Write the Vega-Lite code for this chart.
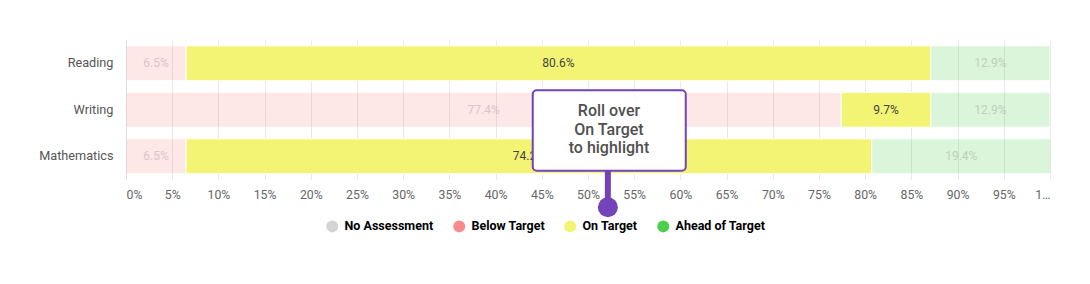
{
  "$schema": "https://vega.github.io/schema/vega-lite/v6.json",
  "width": 924,
  "height": 139.5,
  "autosize": {"type": "none"},
  "padding": {"left": 126, "top": 40, "right": 40, "bottom": 104.5},
  "background": "white",
  "config": {"font": "Roboto", "view": {"stroke": null}},
  "datasets": {
    "scores": [
      {"subject": "Reading", "status": "Below Target", "level": 1, "share": 0.065},
      {"subject": "Reading", "status": "On Target", "level": 2, "share": 0.806},
      {"subject": "Reading", "status": "Ahead of Target", "level": 3, "share": 0.129},
      {"subject": "Writing", "status": "Below Target", "level": 1, "share": 0.774},
      {"subject": "Writing", "status": "On Target", "level": 2, "share": 0.097},
      {"subject": "Writing", "status": "Ahead of Target", "level": 3, "share": 0.129},
      {"subject": "Mathematics", "status": "Below Target", "level": 1, "share": 0.065},
      {"subject": "Mathematics", "status": "On Target", "level": 2, "share": 0.742},
      {"subject": "Mathematics", "status": "Ahead of Target", "level": 3, "share": 0.194}
    ]
  },
  "layer": [
    {
      "data": {"name": "scores"},
      "layer": [
        {
          "mark": {"type": "bar", "stroke": "white", "strokeWidth": 1},
          "encoding": {
            "y": {
              "field": "subject", "type": "nominal",
              "sort": ["Reading", "Writing", "Mathematics"],
              "scale": {"paddingInner": 0.25, "paddingOuter": 0.125},
              "axis": {
                "title": null, "domain": true, "domainColor": "#d8dce8", "domainWidth": 1,
                "ticks": false, "grid": false, "labelPadding": 13, "labelFontSize": 12.7,
                "labelColor": "#555555", "labelFont": "Roboto"
              }
            },
            "x": {
              "field": "share", "type": "quantitative", "stack": "zero",
              "scale": {"domain": [0, 1], "nice": false},
              "axis": {
                "title": null, "format": ".0%",
                "values": [0, 0.05, 0.1, 0.15, 0.2, 0.25, 0.3, 0.35, 0.4, 0.45, 0.5, 0.55, 0.6, 0.65, 0.7, 0.75, 0.8, 0.85, 0.9, 0.95, 1],
                "labelExpr": "datum.value >= 1 ? '1…' : datum.label",
                "domain": false, "ticks": false, "grid": true, "gridColor": "#e9e9e9",
                "labelPadding": 9, "labelFontSize": 12.3, "labelColor": "#666666", "labelFont": "Roboto",
                "encode": {"labels": {"update": {
                  "align": {"signal": "datum.value >= 1 ? 'right' : 'center'"},
                  "dx": {"signal": "datum.value >= 1 ? -3 : 0"}
                }}}
              }
            },
            "order": {"field": "level", "type": "quantitative", "sort": "ascending"},
            "color": {
              "field": "status", "type": "nominal",
              "scale": {
                "domain": ["No Assessment", "Below Target", "On Target", "Ahead of Target"],
                "range": ["#d4d4d7", "#f88b8b", "#f3f374", "#4bd04b"]
              },
              "legend": {
                "orient": "none", "legendX": 200, "legendY": 180, "direction": "horizontal",
                "title": null, "symbolType": "circle", "symbolSize": 144, "symbolOpacity": 1,
                "symbolStrokeWidth": 0, "labelFontSize": 12.5, "labelFontWeight": "bold",
                "labelFont": "Roboto", "labelOffset": 6, "columnPadding": 19, "padding": 0,
                "encode": {"labels": {"update": {
                  "fill": {"signal": "datum.label === 'On Target' ? '#000000' : '#40424e'"}
                }}}
              }
            },
            "opacity": {"condition": {"test": "datum.status === 'On Target'", "value": 1}, "value": 0.2}
          }
        },
        {
          "mark": {"type": "text", "fontSize": 12, "font": "Roboto", "baseline": "middle", "align": "center", "color": "#444444"},
          "encoding": {
            "y": {"field": "subject", "type": "nominal", "sort": ["Reading", "Writing", "Mathematics"]},
            "x": {"field": "share", "type": "quantitative", "stack": "zero", "bandPosition": 0.5},
            "order": {"field": "level", "type": "quantitative", "sort": "ascending"},
            "detail": {"field": "status", "type": "nominal"},
            "opacity": {"condition": {"test": "datum.status === 'On Target'", "value": 1}, "value": 0.2},
            "text": {"field": "share", "type": "quantitative", "format": ".1%"}
          }
        }
      ]
    },
    {
      "data": {"values": [{}]},
      "layer": [
        {
          "mark": {"type": "rule", "color": "#7443b9", "strokeWidth": 6},
          "encoding": {
            "x": {"datum": 0.5215, "type": "quantitative"},
            "y": {"datum": 0.07, "type": "quantitative", "scale": {"domain": [0, 1], "nice": false, "zero": false}, "axis": null},
            "y2": {"datum": -0.199}
          }
        },
        {
          "mark": {"type": "point", "shape": "circle", "filled": true, "color": "#7443b9", "size": 400, "opacity": 1},
          "encoding": {
            "x": {"datum": 0.5215, "type": "quantitative"},
            "y": {"datum": -0.1993, "type": "quantitative"}
          }
        },
        {
          "mark": {"type": "rect", "fill": "white", "stroke": "#7443b9", "strokeWidth": 2, "cornerRadius": 4},
          "encoding": {
            "x": {"datum": 0.4402, "type": "quantitative"},
            "x2": {"datum": 0.6058},
            "y": {"datum": 0.6395, "type": "quantitative"},
            "y2": {"datum": 0.063}
          }
        },
        {
          "mark": {
            "type": "text", "text": ["Roll over", "On Target", "to highlight"],
            "fontSize": 16, "fontWeight": 500, "font": "Roboto", "color": "#4f4f4f",
            "lineHeight": 18.5, "align": "center", "baseline": "middle"
          },
          "encoding": {
            "x": {"datum": 0.5227, "type": "quantitative"},
            "y": {"datum": 0.491, "type": "quantitative"}
          }
        }
      ]
    }
  ],
  "resolve": {"scale": {"y": "independent"}}
}
